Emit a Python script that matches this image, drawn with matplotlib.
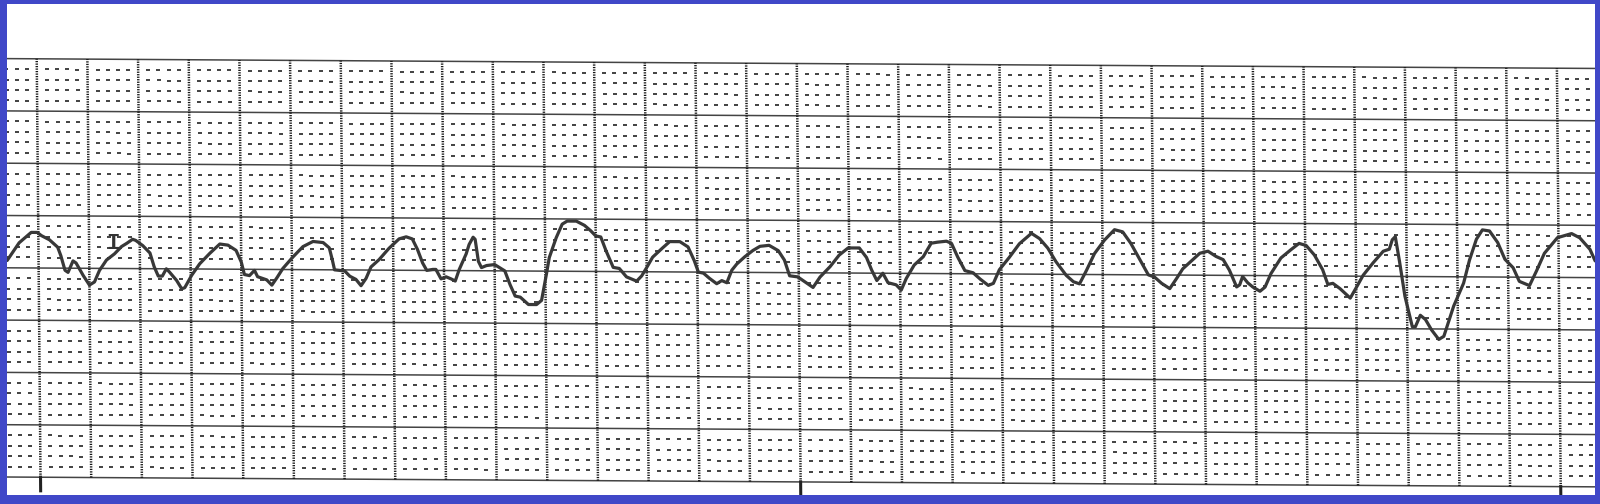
import numpy as np
import matplotlib
matplotlib.use('Agg')
import matplotlib.pyplot as plt
from matplotlib.transforms import Affine2D

# trace: time along the strip (mm, 25 mm/s) and amplitude (mm, 10 mm/mV)
t_mm = [-3.1, -1.9, -0.7, -0.1, 0.3, 1.1, 1.9, 2.2, 2.6, 2.9,
        3.4, 3.7, 4.4, 5.0, 5.5, 6.0, 6.7, 7.5, 8.2, 8.7,
        9.3, 9.6, 10.3, 11.0, 11.4, 11.8, 12.2, 12.6, 12.9, 13.6,
        14.1, 14.4, 15.1, 15.9, 16.9, 17.9, 18.7, 19.5, 20.0, 20.3,
        20.8, 21.3, 21.6, 22.5, 23.0, 23.5, 24.1, 25.1, 26.1, 27.1,
        28.1, 28.7, 29.0, 29.2, 30.2, 30.7, 31.3, 31.8, 32.3, 32.8,
        33.6, 34.6, 35.6,
        36.3, 36.9, 37.4, 37.9, 38.3, 38.9, 39.2, 39.7, 40.2, 40.7,
        41.1, 41.5, 42.2, 42.5, 42.9, 43.1, 43.4, 43.7, 44.2, 45.0,
        45.5, 46.0, 46.5, 47.0, 47.5, 48.3, 49.1, 49.6, 50.1, 50.4,
        51.1, 51.7, 52.2, 53.1, 53.9, 54.5, 55.0, 55.5, 56.0, 56.7,
        57.3, 58.0, 58.5, 59.0, 59.5, 60.0, 60.6, 61.6, 62.3, 63.3,
        64.1, 64.7, 65.1, 65.6, 66.2, 66.9, 67.4, 67.9, 68.4, 68.9,
        69.7, 70.5, 71.2, 72.1, 73.0, 73.6, 74.1, 74.9,
        75.8, 76.4, 77.1, 78.1, 79.0, 79.9, 81.0, 81.7, 82.2, 82.7,
        83.3, 83.8, 84.6, 85.1, 85.6, 86.4, 87.3, 88.1, 88.7, 89.6,
        90.1, 90.7, 91.4, 92.2, 92.9, 93.7, 94.2, 94.8, 95.8, 96.8,
        98.0, 98.8, 99.6, 100.4, 101.4, 102.1, 102.7, 103.4, 104.2, 105.2,
        106.2, 107.0, 107.8, 108.7, 109.5, 110.1, 110.8, 111.6, 112.3, 112.9,
        113.8, 114.6,
        115.4, 116.2, 116.9, 117.5, 118.2, 118.5, 118.8, 119.3, 119.8, 120.5,
        121.0, 121.6, 122.6, 123.6, 124.4, 125.1, 125.9, 126.7, 127.2, 127.7,
        128.4, 129.4, 130.0, 130.7, 131.7, 132.7, 133.3, 133.6, 133.9, 134.3,
        134.8, 135.5, 135.8, 136.3, 136.8, 137.4, 138.1, 138.6, 139.6, 140.6,
        141.2, 141.9, 142.5, 143.2, 144.0, 144.7, 145.5, 146.1, 147.1, 147.8,
        148.6, 149.9, 151.3, 152.1, 153.1, 153.6]
amp_mm = [0.7, 2.4, 3.4, 3.4, 3.1, 2.7, 2.0, 1.2, -0.2, -0.4,
          0.7, 0.5, -0.7, -1.6, -1.3, -0.2, 0.8, 1.4, 2.1, 2.4,
          2.8, 2.7, 2.2, 1.5, 0.2, -0.7, -0.7, 0.0, -0.3, -1.1,
          -1.9, -1.8, -0.6, 0.5, 1.5, 2.4, 2.3, 1.8, 0.7, -0.5,
          -0.6, -0.1, -0.7, -1.0, -1.5, -0.8, 0.1, 1.2, 2.2, 2.7,
          2.6, 2.1, 0.9, 0.0, -0.1, -0.6, -0.9, -1.5, -0.8, 0.3,
          1.0, 2.1, 3.0,
          3.2, 3.0, 2.0, 0.7, 0.0, 0.1, 0.1, -0.8, -0.6, -0.8,
          -1.0, 0.1, 1.6, 2.5, 3.2, 3.0, 0.9, 0.3, 0.5, 0.6,
          0.3, 0.0, -1.3, -2.4, -2.5, -3.2, -3.2, -2.8, -0.3, 1.3,
          3.2, 4.5, 4.8, 4.8, 4.4, 3.9, 3.4, 3.3, 2.0, 0.4,
          0.3, -0.5, -0.7, -0.9, -0.4, 0.4, 1.4, 2.3, 2.9, 2.9,
          2.4, 1.1, 0.0, -0.1, -0.6, -1.1, -0.8, -1.0, 0.2, 0.8,
          1.5, 2.1, 2.5, 2.6, 2.1, 1.2, -0.3, -0.4,
          -1.0, -1.4, -0.4, 0.6, 1.7, 2.4, 2.4, 1.5, 0.3, -0.7,
          0.0, -0.9, -1.1, -1.6, -0.5, 0.8, 1.6, 2.9, 3.0, 3.1,
          2.9, 1.6, 0.3, 0.1, -0.5, -1.1, -0.9, 0.4, 1.6, 2.9,
          3.9, 3.4, 2.5, 1.2, -0.1, -0.7, -0.9, 0.4, 2.0, 3.3,
          4.3, 4.1, 3.0, 1.4, 0.0, -0.2, -0.8, -1.3, -0.3, 0.6,
          1.4, 2.1,
          2.3, 1.8, 1.5, 0.5, -1.1, -0.9, -0.1, -0.7, -1.1, -1.5,
          -1.1, 0.2, 1.7, 2.5, 3.1, 2.9, 2.0, 0.6, -0.8, -0.7,
          -1.2, -2.1, -1.1, 0.1, 1.3, 2.4, 2.6, 3.5, 3.8, 1.4,
          -1.9, -4.8, -4.8, -3.7, -4.1, -5.1, -6.0, -5.7, -2.8, -0.6,
          1.6, 3.6, 4.5, 4.4, 3.3, 1.7, 0.9, -0.4, -0.8, 0.6,
          2.3, 3.8, 4.2, 3.8, 2.7, 1.6]

lead_label = 'I'
second_marks_mm = [0, 75, 150]   # 1 s timing marks below the strip
# the scanned strip is slightly skewed
skew_x = 0.0094
skew_y = 0.0060

fig = plt.figure(figsize=(16, 5.04), dpi=100, facecolor='#4048c8')
ax = fig.add_axes([7 / 1600, 9 / 504, 1588 / 1600, 490.7 / 504])
ax.set_facecolor('white')
ax.set_xlim(-3.12, 153.57)
ax.set_ylim(-21.70, 25.21)
ax.set_xticks([])
ax.set_yticks([])
for s in ax.spines.values():
    s.set_visible(False)

skew = Affine2D(np.array([[1, -skew_x, 0], [-skew_y, 1, 0], [0, 0, 1]])) + ax.transData

x_lo, x_hi = -4, 155

# big 5 mm lines: solid horizontals, dotted verticals
for y in range(-20, 21, 5):
    ax.plot([x_lo, x_hi], [y, y], color='#444444', lw=1.1, transform=skew)
for x in range(0, 151, 5):
    ax.plot([x, x], [-20, 20], color='#151515', lw=1.8,
            ls=(0, (0.5, 0.5)), transform=skew)

# 1 mm marks as small dashes
mx = [k for k in range(-3, 155) if k % 5]
my = [j for j in range(-19, 20) if j % 5]
MX, MY = np.meshgrid(mx, my)
ax.plot(MX.ravel(), MY.ravel(), ls='none', marker='_', ms=2.6, mew=1.3,
        color='#333333', transform=skew)

for x in second_marks_mm:
    ax.plot([x, x], [-20, -21.3], color='#222222', lw=2.2, transform=skew)

ax.plot(t_mm, amp_mm, color='#383838', lw=2.3, transform=skew,
        solid_joinstyle='round', solid_capstyle='round')

ax.text(7.4, 2.4, lead_label, transform=skew, ha='center', va='center',
        fontfamily='Liberation Mono', fontsize=16, fontweight='bold',
        color='#333333')

fig.savefig('out.png', dpi=100, facecolor=fig.get_facecolor())
